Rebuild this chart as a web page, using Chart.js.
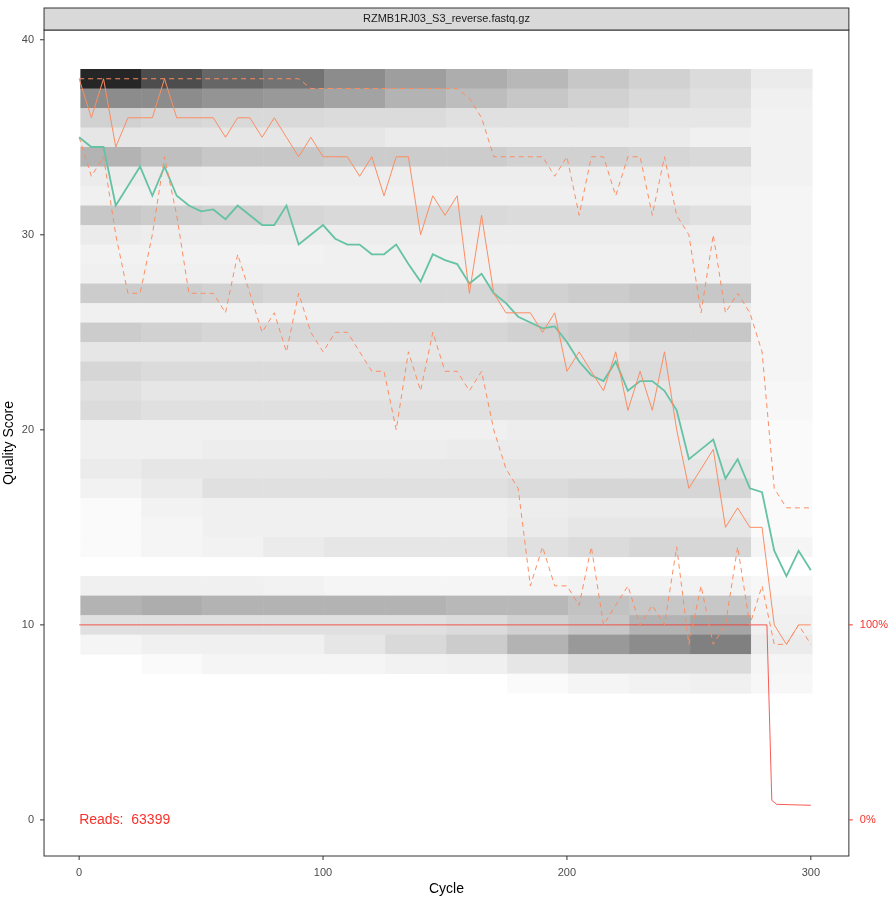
<!DOCTYPE html>
<html>
<head>
<meta charset="utf-8">
<script src="https://cdn.jsdelivr.net/npm/chart.js@4"></script>
<style>
  body { margin: 0; background: #fff; }
  #wrap { width: 894px; height: 900px; }
</style>
</head>
<body>
<div id="wrap"><canvas id="qc"></canvas></div>
<script>
// cycles sampled every 5
const cycles = [0,5,10,15,20,25,30,35,40,45,50,55,60,65,70,75,80,85,90,95,100,105,110,115,120,125,130,135,140,145,150,155,160,165,170,175,180,185,190,195,200,205,210,215,220,225,230,235,240,245,250,255,260,265,270,275,280,285,290,295,300];
const meanQ = [35,34.5,34.5,31.5,32.5,33.5,32,33.5,32,31.5,31.2,31.3,30.8,31.5,31,30.5,30.5,31.5,29.5,30,30.5,29.8,29.5,29.5,29,29,29.5,28.5,27.6,29,28.7,28.5,27.5,28,27,26.5,25.8,25.5,25.2,25.3,24.5,23.5,22.8,22.5,23.5,22,22.5,22.5,22,21,18.5,19,19.5,17.5,18.5,17,16.8,13.8,12.5,13.8,12.8];
const medianQ = [38,36,38,34.5,36,36,36,38,36,36,36,36,35,36,36,35,36,35,34,35,34,34,34,33,34,32,34,34,30,32,31,32,27,31,27,26,26,26,25,26,23,24,23,22,24,21,23,21,24,20,17,18,19,15,16,15,15,10,9,10,10];
const q75 = [38,38,38,38,38,38,38,38,38,38,38,38,38,38,38,38,38,38,38,37.5,37.5,37.5,37.5,37.5,37.5,37.5,37.5,37.5,37.5,37.5,37.5,37.5,37,36,34,34,34,34,34,33,34,31,34,34,32,34,34,31,34,31,30,26,30,26,27,26,24,17,16,16,16];
const q25 = [35,33,34,30,27,27,30,34,31,27,27,27,26,29,27,25,26,24,27,25,24,25,25,24,23,23,20,24,22,25,23,23,22,23,20,18,17,12,14,12,12,11,14,10,11,12,10,11,10,14,9,12,9,10,14,10,12,9,9,10,9];
const cumCycles = [0,20,40,60,80,100,120,140,160,180,200,220,240,260,282,284,286,300];
const cumFrac = [1,1,1,1,1,1,1,1,1,1,1,1,1,1,1,0.1,0.08,0.075];
const readCount = 63399;
const xTicks = [0, 100, 200, 300];
const yTicks = [0, 10, 20, 30, 40];
const pctTicks = [0, 100];

// heatmap: darkness per quality row, 12 segments of 25 cycles
const hmQual = [38,37,36,35,34,33,32,31,30,29,28,27,26,25,24,23,22,21,20,19,18,17,16,15,14,13,12,11,10,9,8,7];
const hmShade = [
  [0.85,0.7,0.6,0.55,0.45,0.38,0.32,0.28,0.22,0.18,0.14,0.08],
  [0.45,0.45,0.42,0.4,0.36,0.3,0.26,0.22,0.18,0.15,0.12,0.06],
  [0.18,0.16,0.15,0.15,0.14,0.14,0.12,0.12,0.12,0.1,0.1,0.05],
  [0.1,0.1,0.1,0.1,0.1,0.08,0.08,0.08,0.08,0.08,0.06,0.05],
  [0.3,0.25,0.22,0.22,0.2,0.2,0.2,0.18,0.18,0.16,0.15,0.05],
  [0.08,0.08,0.07,0.07,0.07,0.07,0.07,0.07,0.07,0.07,0.07,0.05],
  [0.06,0.06,0.06,0.06,0.06,0.06,0.06,0.06,0.06,0.06,0.06,0.04],
  [0.22,0.2,0.18,0.16,0.15,0.15,0.15,0.14,0.14,0.14,0.12,0.04],
  [0.08,0.07,0.07,0.07,0.07,0.07,0.07,0.07,0.07,0.07,0.07,0.04],
  [0.05,0.05,0.05,0.05,0.06,0.06,0.06,0.06,0.06,0.06,0.06,0.04],
  [0.06,0.06,0.06,0.06,0.06,0.06,0.06,0.06,0.06,0.06,0.06,0.04],
  [0.2,0.2,0.18,0.16,0.16,0.16,0.16,0.18,0.2,0.22,0.22,0.04],
  [0.06,0.06,0.06,0.06,0.06,0.06,0.06,0.08,0.08,0.08,0.08,0.04],
  [0.2,0.18,0.16,0.16,0.16,0.16,0.16,0.18,0.2,0.22,0.22,0.04],
  [0.1,0.1,0.1,0.1,0.1,0.1,0.1,0.1,0.1,0.12,0.12,0.04],
  [0.16,0.14,0.14,0.14,0.14,0.14,0.14,0.14,0.14,0.14,0.14,0.04],
  [0.12,0.1,0.1,0.1,0.1,0.1,0.1,0.1,0.1,0.1,0.1,0.03],
  [0.14,0.12,0.12,0.12,0.12,0.12,0.12,0.12,0.12,0.12,0.12,0.03],
  [0.06,0.06,0.06,0.06,0.06,0.06,0.06,0.07,0.07,0.07,0.07,0.02],
  [0.06,0.06,0.07,0.07,0.07,0.07,0.08,0.08,0.08,0.08,0.08,0.02],
  [0.08,0.1,0.1,0.1,0.1,0.1,0.1,0.1,0.1,0.1,0.1,0.02],
  [0.05,0.08,0.12,0.12,0.12,0.12,0.12,0.14,0.16,0.16,0.16,0.02],
  [0.02,0.05,0.06,0.06,0.06,0.06,0.06,0.07,0.08,0.08,0.08,0.02],
  [0.02,0.04,0.06,0.06,0.06,0.06,0.06,0.08,0.1,0.1,0.1,0.02],
  [0.02,0.04,0.05,0.08,0.1,0.1,0.1,0.12,0.14,0.16,0.16,0.04],
  [0.0,0.0,0.0,0.0,0.0,0.0,0.0,0.0,0.0,0.0,0.0,0.0],
  [0.06,0.06,0.06,0.05,0.04,0.04,0.04,0.04,0.05,0.05,0.05,0.03],
  [0.3,0.32,0.3,0.3,0.3,0.3,0.28,0.28,0.24,0.22,0.22,0.05],
  [0.12,0.12,0.12,0.12,0.12,0.12,0.14,0.18,0.22,0.3,0.35,0.06],
  [0.04,0.06,0.06,0.06,0.1,0.15,0.2,0.3,0.4,0.45,0.5,0.08],
  [0.0,0.02,0.04,0.04,0.04,0.05,0.06,0.1,0.14,0.14,0.14,0.04],
  [0.0,0.0,0.0,0.0,0.0,0.0,0.0,0.02,0.04,0.05,0.06,0.03]
];

const pts = (xs, ys) => xs.map((c, i) => ({ x: c, y: ys[i] }));

const heatmapPlugin = {
  id: 'heatmap',
  beforeDatasetsDraw(chart) {
    const { ctx, chartArea, scales } = chart;
    const xs = scales.x, ys = scales.y;
    ctx.save();
    ctx.beginPath();
    ctx.rect(chartArea.left, chartArea.top, chartArea.width, chartArea.height);
    ctx.clip();
    hmQual.forEach((q, r) => {
      hmShade[r].forEach((d, s) => {
        if (d <= 0) return;
        const c0 = Math.max(0.5, s * 25 + 0.5), c1 = Math.min(301, (s + 1) * 25 + 0.5);
        const x0 = xs.getPixelForValue(c0), x1 = xs.getPixelForValue(c1);
        const y0 = ys.getPixelForValue(q + 0.5), y1 = ys.getPixelForValue(q - 0.5);
        const g = Math.round(255 * (1 - d));
        ctx.fillStyle = `rgb(${g},${g},${g})`;
        ctx.fillRect(x0, y0, x1 - x0 + 0.5, y1 - y0 + 0.5);
      });
    });
    ctx.restore();
  },
  afterDraw(chart) {
    const { ctx, chartArea, scales } = chart;
    const { left, right, top, bottom } = chartArea;
    ctx.save();
    // panel border
    ctx.strokeStyle = '#333';
    ctx.lineWidth = 1;
    ctx.strokeRect(left, top, right - left, bottom - top);
    // tick marks
    ctx.beginPath();
    xTicks.forEach(v => { const x = scales.x.getPixelForValue(v); ctx.moveTo(x, bottom); ctx.lineTo(x, bottom + 4); });
    yTicks.forEach(v => { const y = scales.y.getPixelForValue(v); ctx.moveTo(left, y); ctx.lineTo(left - 4, y); });
    ctx.stroke();
    ctx.strokeStyle = '#F8312A';
    ctx.beginPath();
    pctTicks.forEach(v => { const y = scales.y2.getPixelForValue(v); ctx.moveTo(right, y); ctx.lineTo(right + 4, y); });
    ctx.stroke();
    // facet strip
    ctx.strokeStyle = '#333';
    ctx.fillStyle = '#d9d9d9';
    ctx.fillRect(left, top - 22, right - left, 22);
    ctx.strokeRect(left, top - 22, right - left, 22);
    ctx.fillStyle = '#1a1a1a';
    ctx.font = '11px "Liberation Sans", Arial, sans-serif';
    ctx.textAlign = 'center';
    ctx.textBaseline = 'middle';
    ctx.fillText('RZMB1RJ03_S3_reverse.fastq.gz', (left + right) / 2, top - 11);
    // read count label
    ctx.fillStyle = '#F8312A';
    ctx.font = '14px "Liberation Sans", Arial, sans-serif';
    ctx.textAlign = 'left';
    ctx.fillText('Reads:  ' + readCount, scales.x.getPixelForValue(0), scales.y.getPixelForValue(0));
    ctx.restore();
  }
};

new Chart(document.getElementById('qc'), {
  type: 'line',
  data: {
    datasets: [
      { data: pts(cycles, q75), borderColor: '#FC8D62', borderWidth: 1, borderDash: [5, 4], pointRadius: 0 },
      { data: pts(cycles, q25), borderColor: '#FC8D62', borderWidth: 1, borderDash: [5, 4], pointRadius: 0 },
      { data: pts(cycles, medianQ), borderColor: '#FC8D62', borderWidth: 1, pointRadius: 0 },
      { data: pts(cycles, meanQ), borderColor: '#66C2A5', borderWidth: 1.8, pointRadius: 0 },
      { data: pts(cumCycles, cumFrac.map(f => f * 10)), borderColor: '#F8312A', borderWidth: 0.8, pointRadius: 0 }
    ]
  },
  options: {
    responsive: true,
    maintainAspectRatio: false,
    animation: false,
    layout: { padding: { top: 30, right: 3, left: 0, bottom: 0 } },
    plugins: { legend: { display: false }, tooltip: { enabled: false } },
    scales: {
      x: {
        type: 'linear', min: -14.4, max: 315.6,
        afterBuildTicks: a => { a.ticks = xTicks.map(v => ({ value: v })); },
        grid: { display: false },
        border: { display: false },
        ticks: { color: '#4d4d4d', padding: 2, font: { size: 11, family: 'Liberation Sans' } },
        title: { display: true, text: 'Cycle', color: '#000', padding: { top: 0, bottom: 2 }, font: { size: 14, family: 'Liberation Sans' } }
      },
      y: {
        min: -1.85, max: 40.5,
        afterBuildTicks: a => { a.ticks = yTicks.map(v => ({ value: v })); },
        grid: { display: false },
        border: { display: false },
        ticks: { color: '#4d4d4d', padding: 2, font: { size: 11, family: 'Liberation Sans' } },
        title: { display: true, text: 'Quality Score', color: '#000', padding: { top: 1, bottom: 2 }, font: { size: 14, family: 'Liberation Sans' } }
      },
      y2: {
        position: 'right', min: -18.5, max: 405,
        afterBuildTicks: a => { a.ticks = pctTicks.map(v => ({ value: v })); },
        grid: { display: false, drawOnChartArea: false },
        border: { display: false },
        ticks: { color: '#F8312A', padding: 3, font: { size: 11, family: 'Liberation Sans' }, callback: v => v + '%' }
      }
    }
  },
  plugins: [heatmapPlugin]
});
</script>
</body>
</html>
